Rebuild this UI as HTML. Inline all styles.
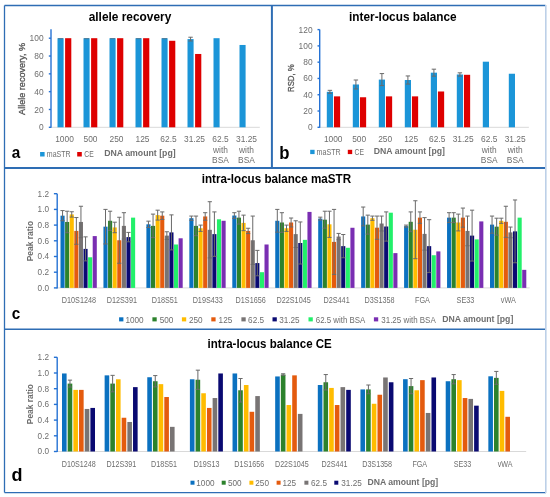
<!DOCTYPE html>
<html><head><meta charset="utf-8"><style>
html,body{margin:0;padding:0;background:#fff;}
svg{display:block;font-family:"Liberation Sans", sans-serif;will-change:transform;}
</style></head><body>
<svg width="550" height="497" viewBox="0 0 550 497">
<rect width="550" height="497" fill="#fff"/>
<line x1="51.00" y1="127.30" x2="259.80" y2="127.30" stroke="#D9D9D9" stroke-width="1"/>
<rect x="57.50" y="38.20" width="6.10" height="89.10" fill="#1B95D8"/>
<line x1="58.10" y1="38.70" x2="63.00" y2="38.70" stroke="#4F7890" stroke-width="1"/>
<rect x="65.10" y="38.20" width="6.20" height="89.10" fill="#DE0000"/>
<rect x="83.50" y="38.20" width="6.10" height="89.10" fill="#1B95D8"/>
<line x1="84.10" y1="38.70" x2="89.00" y2="38.70" stroke="#4F7890" stroke-width="1"/>
<rect x="91.10" y="38.20" width="6.20" height="89.10" fill="#DE0000"/>
<rect x="109.50" y="38.20" width="6.10" height="89.10" fill="#1B95D8"/>
<line x1="110.10" y1="38.70" x2="115.00" y2="38.70" stroke="#4F7890" stroke-width="1"/>
<rect x="117.10" y="38.20" width="6.20" height="89.10" fill="#DE0000"/>
<rect x="135.50" y="38.20" width="6.10" height="89.10" fill="#1B95D8"/>
<line x1="136.10" y1="38.70" x2="141.00" y2="38.70" stroke="#4F7890" stroke-width="1"/>
<rect x="143.10" y="38.20" width="6.20" height="89.10" fill="#DE0000"/>
<rect x="161.50" y="38.20" width="6.10" height="89.10" fill="#1B95D8"/>
<line x1="162.10" y1="38.70" x2="167.00" y2="38.70" stroke="#4F7890" stroke-width="1"/>
<rect x="169.10" y="40.78" width="6.20" height="86.52" fill="#DE0000"/>
<rect x="187.50" y="39.09" width="6.10" height="88.21" fill="#1B95D8"/>
<line x1="190.55" y1="37.22" x2="190.55" y2="40.96" stroke="#6A6A6A" stroke-width="1"/>
<line x1="188.35" y1="37.22" x2="192.75" y2="37.22" stroke="#6A6A6A" stroke-width="1"/>
<line x1="188.35" y1="40.96" x2="192.75" y2="40.96" stroke="#6A6A6A" stroke-width="1"/>
<rect x="195.10" y="53.97" width="6.20" height="73.33" fill="#DE0000"/>
<rect x="213.50" y="38.20" width="6.10" height="89.10" fill="#1B95D8"/>
<rect x="239.50" y="44.97" width="6.10" height="82.33" fill="#1B95D8"/>
<line x1="51.00" y1="29.29" x2="51.00" y2="127.80" stroke="#2572D4" stroke-width="1.4"/>
<line x1="48.80" y1="127.30" x2="51.00" y2="127.30" stroke="#2572D4" stroke-width="1.4"/>
<text x="43.60" y="130.32" font-size="8.4" fill="#6E6E6E" text-anchor="end" font-weight="normal">0</text>
<line x1="48.80" y1="109.48" x2="51.00" y2="109.48" stroke="#2572D4" stroke-width="1.4"/>
<text x="43.60" y="112.50" font-size="8.4" fill="#6E6E6E" text-anchor="end" font-weight="normal">20</text>
<line x1="48.80" y1="91.66" x2="51.00" y2="91.66" stroke="#2572D4" stroke-width="1.4"/>
<text x="43.60" y="94.68" font-size="8.4" fill="#6E6E6E" text-anchor="end" font-weight="normal">40</text>
<line x1="48.80" y1="73.84" x2="51.00" y2="73.84" stroke="#2572D4" stroke-width="1.4"/>
<text x="43.60" y="76.86" font-size="8.4" fill="#6E6E6E" text-anchor="end" font-weight="normal">60</text>
<line x1="48.80" y1="56.02" x2="51.00" y2="56.02" stroke="#2572D4" stroke-width="1.4"/>
<text x="43.60" y="59.04" font-size="8.4" fill="#6E6E6E" text-anchor="end" font-weight="normal">80</text>
<line x1="48.80" y1="38.20" x2="51.00" y2="38.20" stroke="#2572D4" stroke-width="1.4"/>
<text x="43.60" y="41.22" font-size="8.4" fill="#6E6E6E" text-anchor="end" font-weight="normal">100</text>
<text x="64.50" y="142.00" font-size="8.4" fill="#6E6E6E" text-anchor="middle" font-weight="normal">1000</text>
<text x="90.50" y="142.00" font-size="8.4" fill="#6E6E6E" text-anchor="middle" font-weight="normal">500</text>
<text x="116.50" y="142.00" font-size="8.4" fill="#6E6E6E" text-anchor="middle" font-weight="normal">250</text>
<text x="142.50" y="142.00" font-size="8.4" fill="#6E6E6E" text-anchor="middle" font-weight="normal">125</text>
<text x="168.50" y="142.00" font-size="8.4" fill="#6E6E6E" text-anchor="middle" font-weight="normal">62.5</text>
<text x="194.50" y="142.00" font-size="8.4" fill="#6E6E6E" text-anchor="middle" font-weight="normal">31.25</text>
<text x="220.50" y="142.00" font-size="8.4" fill="#6E6E6E" text-anchor="middle" font-weight="normal">62.5</text>
<text x="220.50" y="152.60" font-size="8.4" fill="#6E6E6E" text-anchor="middle" font-weight="normal">with</text>
<text x="220.50" y="163.20" font-size="8.4" fill="#6E6E6E" text-anchor="middle" font-weight="normal">BSA</text>
<text x="246.50" y="142.00" font-size="8.4" fill="#6E6E6E" text-anchor="middle" font-weight="normal">31.25</text>
<text x="246.50" y="152.60" font-size="8.4" fill="#6E6E6E" text-anchor="middle" font-weight="normal">with</text>
<text x="246.50" y="163.20" font-size="8.4" fill="#6E6E6E" text-anchor="middle" font-weight="normal">BSA</text>
<text x="130.00" y="20.70" font-size="12.6" fill="#000" text-anchor="middle" font-weight="bold" textLength="82.60" lengthAdjust="spacingAndGlyphs">allele recovery</text>
<text transform="translate(25.1,78.9) rotate(-90)" font-size="9" fill="#555" stroke="#555" stroke-width="0.3" text-anchor="middle" textLength="72" lengthAdjust="spacingAndGlyphs">Allele recovery, %</text>
<rect x="40.10" y="152.00" width="4.50" height="4.50" fill="#1B95D8"/>
<text x="46.80" y="156.60" font-size="8.4" fill="#6E6E6E" text-anchor="start" font-weight="normal" textLength="23.80" lengthAdjust="spacingAndGlyphs">maSTR</text>
<rect x="77.20" y="152.00" width="4.60" height="4.50" fill="#DE0000"/>
<text x="84.30" y="156.60" font-size="8.6" fill="#6E6E6E" text-anchor="start" font-weight="normal" textLength="9.40" lengthAdjust="spacingAndGlyphs">CE</text>
<text x="104.20" y="156.00" font-size="8.8" fill="#6E6E6E" text-anchor="start" font-weight="bold" textLength="71.50" lengthAdjust="spacingAndGlyphs">DNA amount [pg]</text>
<text transform="translate(11.7,158.2) scale(0.85,0.96)" font-size="18" font-weight="bold" fill="#000">a</text>
<line x1="319.70" y1="127.30" x2="528.90" y2="127.30" stroke="#D9D9D9" stroke-width="1"/>
<rect x="326.80" y="91.81" width="6.20" height="35.49" fill="#1B95D8"/>
<rect x="333.95" y="96.37" width="6.20" height="30.93" fill="#DE0000"/>
<line x1="329.90" y1="90.34" x2="329.90" y2="93.27" stroke="#6A6A6A" stroke-width="1"/>
<line x1="327.70" y1="90.34" x2="332.10" y2="90.34" stroke="#6A6A6A" stroke-width="1"/>
<line x1="327.70" y1="93.27" x2="332.10" y2="93.27" stroke="#6A6A6A" stroke-width="1"/>
<rect x="352.80" y="84.48" width="6.20" height="42.82" fill="#1B95D8"/>
<rect x="359.95" y="97.26" width="6.20" height="30.04" fill="#DE0000"/>
<line x1="355.90" y1="80.01" x2="355.90" y2="88.96" stroke="#6A6A6A" stroke-width="1"/>
<line x1="353.70" y1="80.01" x2="358.10" y2="80.01" stroke="#6A6A6A" stroke-width="1"/>
<line x1="353.70" y1="88.96" x2="358.10" y2="88.96" stroke="#6A6A6A" stroke-width="1"/>
<rect x="378.80" y="79.60" width="6.20" height="47.70" fill="#1B95D8"/>
<rect x="385.95" y="96.37" width="6.20" height="30.93" fill="#DE0000"/>
<line x1="381.90" y1="73.58" x2="381.90" y2="85.62" stroke="#6A6A6A" stroke-width="1"/>
<line x1="379.70" y1="73.58" x2="384.10" y2="73.58" stroke="#6A6A6A" stroke-width="1"/>
<line x1="379.70" y1="85.62" x2="384.10" y2="85.62" stroke="#6A6A6A" stroke-width="1"/>
<rect x="404.80" y="80.01" width="6.20" height="47.29" fill="#1B95D8"/>
<rect x="411.95" y="96.37" width="6.20" height="30.93" fill="#DE0000"/>
<line x1="407.90" y1="75.94" x2="407.90" y2="84.08" stroke="#6A6A6A" stroke-width="1"/>
<line x1="405.70" y1="75.94" x2="410.10" y2="75.94" stroke="#6A6A6A" stroke-width="1"/>
<line x1="405.70" y1="84.08" x2="410.10" y2="84.08" stroke="#6A6A6A" stroke-width="1"/>
<rect x="430.80" y="72.68" width="6.20" height="54.62" fill="#1B95D8"/>
<rect x="437.95" y="91.48" width="6.20" height="35.82" fill="#DE0000"/>
<line x1="433.90" y1="69.18" x2="433.90" y2="76.18" stroke="#6A6A6A" stroke-width="1"/>
<line x1="431.70" y1="69.18" x2="436.10" y2="69.18" stroke="#6A6A6A" stroke-width="1"/>
<line x1="431.70" y1="76.18" x2="436.10" y2="76.18" stroke="#6A6A6A" stroke-width="1"/>
<rect x="456.80" y="74.47" width="6.20" height="52.83" fill="#1B95D8"/>
<rect x="463.95" y="74.80" width="6.20" height="52.50" fill="#DE0000"/>
<line x1="459.90" y1="72.84" x2="459.90" y2="76.10" stroke="#6A6A6A" stroke-width="1"/>
<line x1="457.70" y1="72.84" x2="462.10" y2="72.84" stroke="#6A6A6A" stroke-width="1"/>
<line x1="457.70" y1="76.10" x2="462.10" y2="76.10" stroke="#6A6A6A" stroke-width="1"/>
<rect x="482.80" y="61.69" width="6.20" height="65.61" fill="#1B95D8"/>
<rect x="508.80" y="73.74" width="6.20" height="53.56" fill="#1B95D8"/>
<line x1="319.70" y1="29.62" x2="319.70" y2="127.80" stroke="#2572D4" stroke-width="1.4"/>
<line x1="317.50" y1="127.30" x2="319.70" y2="127.30" stroke="#2572D4" stroke-width="1.4"/>
<text x="312.60" y="130.32" font-size="8.4" fill="#6E6E6E" text-anchor="end" font-weight="normal">0</text>
<line x1="317.50" y1="111.02" x2="319.70" y2="111.02" stroke="#2572D4" stroke-width="1.4"/>
<text x="312.60" y="114.04" font-size="8.4" fill="#6E6E6E" text-anchor="end" font-weight="normal">20</text>
<line x1="317.50" y1="94.74" x2="319.70" y2="94.74" stroke="#2572D4" stroke-width="1.4"/>
<text x="312.60" y="97.76" font-size="8.4" fill="#6E6E6E" text-anchor="end" font-weight="normal">40</text>
<line x1="317.50" y1="78.46" x2="319.70" y2="78.46" stroke="#2572D4" stroke-width="1.4"/>
<text x="312.60" y="81.48" font-size="8.4" fill="#6E6E6E" text-anchor="end" font-weight="normal">60</text>
<line x1="317.50" y1="62.18" x2="319.70" y2="62.18" stroke="#2572D4" stroke-width="1.4"/>
<text x="312.60" y="65.20" font-size="8.4" fill="#6E6E6E" text-anchor="end" font-weight="normal">80</text>
<line x1="317.50" y1="45.90" x2="319.70" y2="45.90" stroke="#2572D4" stroke-width="1.4"/>
<text x="312.60" y="48.92" font-size="8.4" fill="#6E6E6E" text-anchor="end" font-weight="normal">100</text>
<line x1="317.50" y1="29.62" x2="319.70" y2="29.62" stroke="#2572D4" stroke-width="1.4"/>
<text x="312.60" y="32.64" font-size="8.4" fill="#6E6E6E" text-anchor="end" font-weight="normal">120</text>
<text x="333.20" y="142.00" font-size="8.4" fill="#6E6E6E" text-anchor="middle" font-weight="normal">1000</text>
<text x="359.20" y="142.00" font-size="8.4" fill="#6E6E6E" text-anchor="middle" font-weight="normal">500</text>
<text x="385.20" y="142.00" font-size="8.4" fill="#6E6E6E" text-anchor="middle" font-weight="normal">250</text>
<text x="411.20" y="142.00" font-size="8.4" fill="#6E6E6E" text-anchor="middle" font-weight="normal">125</text>
<text x="437.20" y="142.00" font-size="8.4" fill="#6E6E6E" text-anchor="middle" font-weight="normal">62.5</text>
<text x="463.20" y="142.00" font-size="8.4" fill="#6E6E6E" text-anchor="middle" font-weight="normal">31.25</text>
<text x="489.20" y="142.00" font-size="8.4" fill="#6E6E6E" text-anchor="middle" font-weight="normal">62.5</text>
<text x="489.20" y="152.60" font-size="8.4" fill="#6E6E6E" text-anchor="middle" font-weight="normal">with</text>
<text x="489.20" y="163.20" font-size="8.4" fill="#6E6E6E" text-anchor="middle" font-weight="normal">BSA</text>
<text x="515.20" y="142.00" font-size="8.4" fill="#6E6E6E" text-anchor="middle" font-weight="normal">31.25</text>
<text x="515.20" y="152.60" font-size="8.4" fill="#6E6E6E" text-anchor="middle" font-weight="normal">with</text>
<text x="515.20" y="163.20" font-size="8.4" fill="#6E6E6E" text-anchor="middle" font-weight="normal">BSA</text>
<text x="402.90" y="21.20" font-size="12.6" fill="#000" text-anchor="middle" font-weight="bold" textLength="107.60" lengthAdjust="spacingAndGlyphs">inter-locus balance</text>
<text transform="translate(294.1,78.1) rotate(-90)" font-size="9" fill="#555" stroke="#555" stroke-width="0.3" text-anchor="middle" textLength="27.8" lengthAdjust="spacingAndGlyphs">RSD, %</text>
<rect x="310.20" y="149.80" width="4.40" height="4.30" fill="#1B95D8"/>
<text x="316.50" y="154.60" font-size="8.4" fill="#6E6E6E" text-anchor="start" font-weight="normal" textLength="24.20" lengthAdjust="spacingAndGlyphs">maSTR</text>
<rect x="347.80" y="149.80" width="4.40" height="4.30" fill="#DE0000"/>
<text x="354.60" y="154.60" font-size="8.6" fill="#6E6E6E" text-anchor="start" font-weight="normal" textLength="9.40" lengthAdjust="spacingAndGlyphs">CE</text>
<text x="373.80" y="154.00" font-size="8.8" fill="#6E6E6E" text-anchor="start" font-weight="bold" textLength="71.10" lengthAdjust="spacingAndGlyphs">DNA amount [pg]</text>
<text transform="translate(279.3,158.8) scale(0.93,1)" font-size="18" font-weight="bold" fill="#000">b</text>
<line x1="57.20" y1="287.90" x2="529.65" y2="287.90" stroke="#D9D9D9" stroke-width="1"/>
<rect x="60.50" y="215.68" width="4.10" height="72.22" fill="#0B71C0"/>
<rect x="65.10" y="221.96" width="4.10" height="65.94" fill="#2C822C"/>
<rect x="69.70" y="214.42" width="4.10" height="73.48" fill="#FFBC00"/>
<rect x="74.30" y="230.91" width="4.10" height="56.99" fill="#E45B0E"/>
<rect x="78.90" y="221.96" width="4.10" height="65.94" fill="#787474"/>
<rect x="83.50" y="248.89" width="4.10" height="39.01" fill="#0A0A72"/>
<rect x="88.10" y="257.28" width="4.10" height="30.62" fill="#22F06A"/>
<rect x="92.70" y="236.09" width="4.10" height="51.81" fill="#7A2EB2"/>
<line x1="62.55" y1="210.58" x2="62.55" y2="220.78" stroke="#6A6A6A" stroke-width="1"/>
<line x1="60.45" y1="210.58" x2="64.65" y2="210.58" stroke="#6A6A6A" stroke-width="1"/>
<line x1="60.45" y1="220.78" x2="64.65" y2="220.78" stroke="#6A6A6A" stroke-width="1"/>
<line x1="67.15" y1="211.21" x2="67.15" y2="232.71" stroke="#6A6A6A" stroke-width="1"/>
<line x1="65.05" y1="211.21" x2="69.25" y2="211.21" stroke="#6A6A6A" stroke-width="1"/>
<line x1="65.05" y1="232.71" x2="69.25" y2="232.71" stroke="#6A6A6A" stroke-width="1"/>
<line x1="71.75" y1="211.75" x2="71.75" y2="217.09" stroke="#6A6A6A" stroke-width="1"/>
<line x1="69.65" y1="211.75" x2="73.85" y2="211.75" stroke="#6A6A6A" stroke-width="1"/>
<line x1="69.65" y1="217.09" x2="73.85" y2="217.09" stroke="#6A6A6A" stroke-width="1"/>
<line x1="76.35" y1="217.56" x2="76.35" y2="244.25" stroke="#6A6A6A" stroke-width="1"/>
<line x1="74.25" y1="217.56" x2="78.45" y2="217.56" stroke="#6A6A6A" stroke-width="1"/>
<line x1="74.25" y1="244.25" x2="78.45" y2="244.25" stroke="#6A6A6A" stroke-width="1"/>
<line x1="80.95" y1="206.26" x2="80.95" y2="237.66" stroke="#6A6A6A" stroke-width="1"/>
<line x1="78.85" y1="206.26" x2="83.05" y2="206.26" stroke="#6A6A6A" stroke-width="1"/>
<line x1="78.85" y1="237.66" x2="83.05" y2="237.66" stroke="#6A6A6A" stroke-width="1"/>
<line x1="85.55" y1="236.87" x2="85.55" y2="260.90" stroke="#6A6A6A" stroke-width="1"/>
<line x1="83.45" y1="236.87" x2="87.65" y2="236.87" stroke="#6A6A6A" stroke-width="1"/>
<line x1="83.45" y1="260.90" x2="87.65" y2="260.90" stroke="#6A6A6A" stroke-width="1"/>
<rect x="103.45" y="226.67" width="4.10" height="61.23" fill="#0B71C0"/>
<rect x="108.05" y="220.78" width="4.10" height="67.12" fill="#2C822C"/>
<rect x="112.65" y="227.45" width="4.10" height="60.45" fill="#FFBC00"/>
<rect x="117.25" y="240.25" width="4.10" height="47.65" fill="#E45B0E"/>
<rect x="121.85" y="225.88" width="4.10" height="62.02" fill="#787474"/>
<rect x="126.45" y="237.11" width="4.10" height="50.79" fill="#0A0A72"/>
<rect x="131.05" y="217.64" width="4.10" height="70.26" fill="#22F06A"/>
<line x1="105.50" y1="209.40" x2="105.50" y2="243.94" stroke="#6A6A6A" stroke-width="1"/>
<line x1="103.40" y1="209.40" x2="107.60" y2="209.40" stroke="#6A6A6A" stroke-width="1"/>
<line x1="103.40" y1="243.94" x2="107.60" y2="243.94" stroke="#6A6A6A" stroke-width="1"/>
<line x1="110.10" y1="211.21" x2="110.10" y2="230.36" stroke="#6A6A6A" stroke-width="1"/>
<line x1="108.00" y1="211.21" x2="112.20" y2="211.21" stroke="#6A6A6A" stroke-width="1"/>
<line x1="108.00" y1="230.36" x2="112.20" y2="230.36" stroke="#6A6A6A" stroke-width="1"/>
<line x1="114.70" y1="222.20" x2="114.70" y2="232.71" stroke="#6A6A6A" stroke-width="1"/>
<line x1="112.60" y1="222.20" x2="116.80" y2="222.20" stroke="#6A6A6A" stroke-width="1"/>
<line x1="112.60" y1="232.71" x2="116.80" y2="232.71" stroke="#6A6A6A" stroke-width="1"/>
<line x1="119.30" y1="217.25" x2="119.30" y2="263.25" stroke="#6A6A6A" stroke-width="1"/>
<line x1="117.20" y1="217.25" x2="121.40" y2="217.25" stroke="#6A6A6A" stroke-width="1"/>
<line x1="117.20" y1="263.25" x2="121.40" y2="263.25" stroke="#6A6A6A" stroke-width="1"/>
<line x1="123.90" y1="212.70" x2="123.90" y2="239.07" stroke="#6A6A6A" stroke-width="1"/>
<line x1="121.80" y1="212.70" x2="126.00" y2="212.70" stroke="#6A6A6A" stroke-width="1"/>
<line x1="121.80" y1="239.07" x2="126.00" y2="239.07" stroke="#6A6A6A" stroke-width="1"/>
<line x1="128.50" y1="232.40" x2="128.50" y2="241.82" stroke="#6A6A6A" stroke-width="1"/>
<line x1="126.40" y1="232.40" x2="130.60" y2="232.40" stroke="#6A6A6A" stroke-width="1"/>
<line x1="126.40" y1="241.82" x2="130.60" y2="241.82" stroke="#6A6A6A" stroke-width="1"/>
<rect x="146.40" y="224.31" width="4.10" height="63.59" fill="#0B71C0"/>
<rect x="151.00" y="225.88" width="4.10" height="62.02" fill="#2C822C"/>
<rect x="155.60" y="215.13" width="4.10" height="72.77" fill="#FFBC00"/>
<rect x="160.20" y="215.68" width="4.10" height="72.22" fill="#E45B0E"/>
<rect x="164.80" y="235.62" width="4.10" height="52.28" fill="#787474"/>
<rect x="169.40" y="232.40" width="4.10" height="55.50" fill="#0A0A72"/>
<rect x="174.00" y="244.49" width="4.10" height="43.41" fill="#22F06A"/>
<rect x="178.60" y="238.29" width="4.10" height="49.61" fill="#7A2EB2"/>
<line x1="148.45" y1="221.17" x2="148.45" y2="227.45" stroke="#6A6A6A" stroke-width="1"/>
<line x1="146.35" y1="221.17" x2="150.55" y2="221.17" stroke="#6A6A6A" stroke-width="1"/>
<line x1="146.35" y1="227.45" x2="150.55" y2="227.45" stroke="#6A6A6A" stroke-width="1"/>
<line x1="153.05" y1="214.11" x2="153.05" y2="237.66" stroke="#6A6A6A" stroke-width="1"/>
<line x1="150.95" y1="214.11" x2="155.15" y2="214.11" stroke="#6A6A6A" stroke-width="1"/>
<line x1="150.95" y1="237.66" x2="155.15" y2="237.66" stroke="#6A6A6A" stroke-width="1"/>
<line x1="157.65" y1="210.18" x2="157.65" y2="220.08" stroke="#6A6A6A" stroke-width="1"/>
<line x1="155.55" y1="210.18" x2="159.75" y2="210.18" stroke="#6A6A6A" stroke-width="1"/>
<line x1="155.55" y1="220.08" x2="159.75" y2="220.08" stroke="#6A6A6A" stroke-width="1"/>
<line x1="162.25" y1="211.91" x2="162.25" y2="219.45" stroke="#6A6A6A" stroke-width="1"/>
<line x1="160.15" y1="211.91" x2="164.35" y2="211.91" stroke="#6A6A6A" stroke-width="1"/>
<line x1="160.15" y1="219.45" x2="164.35" y2="219.45" stroke="#6A6A6A" stroke-width="1"/>
<line x1="166.85" y1="231.77" x2="166.85" y2="239.47" stroke="#6A6A6A" stroke-width="1"/>
<line x1="164.75" y1="231.77" x2="168.95" y2="231.77" stroke="#6A6A6A" stroke-width="1"/>
<line x1="164.75" y1="239.47" x2="168.95" y2="239.47" stroke="#6A6A6A" stroke-width="1"/>
<line x1="171.45" y1="214.89" x2="171.45" y2="249.91" stroke="#6A6A6A" stroke-width="1"/>
<line x1="169.35" y1="214.89" x2="173.55" y2="214.89" stroke="#6A6A6A" stroke-width="1"/>
<line x1="169.35" y1="249.91" x2="173.55" y2="249.91" stroke="#6A6A6A" stroke-width="1"/>
<rect x="189.35" y="218.19" width="4.10" height="69.71" fill="#0B71C0"/>
<rect x="193.95" y="225.88" width="4.10" height="62.02" fill="#2C822C"/>
<rect x="198.55" y="228.24" width="4.10" height="59.66" fill="#FFBC00"/>
<rect x="203.15" y="216.46" width="4.10" height="71.44" fill="#E45B0E"/>
<rect x="207.75" y="229.81" width="4.10" height="58.09" fill="#787474"/>
<rect x="212.35" y="234.13" width="4.10" height="53.77" fill="#0A0A72"/>
<rect x="216.95" y="219.29" width="4.10" height="68.61" fill="#22F06A"/>
<rect x="221.55" y="220.78" width="4.10" height="67.12" fill="#7A2EB2"/>
<line x1="191.40" y1="216.07" x2="191.40" y2="220.31" stroke="#6A6A6A" stroke-width="1"/>
<line x1="189.30" y1="216.07" x2="193.50" y2="216.07" stroke="#6A6A6A" stroke-width="1"/>
<line x1="189.30" y1="220.31" x2="193.50" y2="220.31" stroke="#6A6A6A" stroke-width="1"/>
<line x1="196.00" y1="216.07" x2="196.00" y2="235.70" stroke="#6A6A6A" stroke-width="1"/>
<line x1="193.90" y1="216.07" x2="198.10" y2="216.07" stroke="#6A6A6A" stroke-width="1"/>
<line x1="193.90" y1="235.70" x2="198.10" y2="235.70" stroke="#6A6A6A" stroke-width="1"/>
<line x1="200.60" y1="225.10" x2="200.60" y2="231.38" stroke="#6A6A6A" stroke-width="1"/>
<line x1="198.50" y1="225.10" x2="202.70" y2="225.10" stroke="#6A6A6A" stroke-width="1"/>
<line x1="198.50" y1="231.38" x2="202.70" y2="231.38" stroke="#6A6A6A" stroke-width="1"/>
<line x1="205.20" y1="212.70" x2="205.20" y2="220.23" stroke="#6A6A6A" stroke-width="1"/>
<line x1="203.10" y1="212.70" x2="207.30" y2="212.70" stroke="#6A6A6A" stroke-width="1"/>
<line x1="203.10" y1="220.23" x2="207.30" y2="220.23" stroke="#6A6A6A" stroke-width="1"/>
<line x1="209.80" y1="201.71" x2="209.80" y2="257.91" stroke="#6A6A6A" stroke-width="1"/>
<line x1="207.70" y1="201.71" x2="211.90" y2="201.71" stroke="#6A6A6A" stroke-width="1"/>
<line x1="207.70" y1="257.91" x2="211.90" y2="257.91" stroke="#6A6A6A" stroke-width="1"/>
<line x1="214.40" y1="211.91" x2="214.40" y2="256.34" stroke="#6A6A6A" stroke-width="1"/>
<line x1="212.30" y1="211.91" x2="216.50" y2="211.91" stroke="#6A6A6A" stroke-width="1"/>
<line x1="212.30" y1="256.34" x2="216.50" y2="256.34" stroke="#6A6A6A" stroke-width="1"/>
<rect x="232.30" y="215.52" width="4.10" height="72.38" fill="#0B71C0"/>
<rect x="236.90" y="217.64" width="4.10" height="70.26" fill="#2C822C"/>
<rect x="241.50" y="222.90" width="4.10" height="65.00" fill="#FFBC00"/>
<rect x="246.10" y="230.91" width="4.10" height="56.99" fill="#E45B0E"/>
<rect x="250.70" y="240.25" width="4.10" height="47.65" fill="#787474"/>
<rect x="255.30" y="263.09" width="4.10" height="24.81" fill="#0A0A72"/>
<rect x="259.90" y="272.20" width="4.10" height="15.70" fill="#22F06A"/>
<rect x="264.50" y="244.49" width="4.10" height="43.41" fill="#7A2EB2"/>
<line x1="234.35" y1="212.70" x2="234.35" y2="218.35" stroke="#6A6A6A" stroke-width="1"/>
<line x1="232.25" y1="212.70" x2="236.45" y2="212.70" stroke="#6A6A6A" stroke-width="1"/>
<line x1="232.25" y1="218.35" x2="236.45" y2="218.35" stroke="#6A6A6A" stroke-width="1"/>
<line x1="238.95" y1="211.21" x2="238.95" y2="224.08" stroke="#6A6A6A" stroke-width="1"/>
<line x1="236.85" y1="211.21" x2="241.05" y2="211.21" stroke="#6A6A6A" stroke-width="1"/>
<line x1="236.85" y1="224.08" x2="241.05" y2="224.08" stroke="#6A6A6A" stroke-width="1"/>
<line x1="243.55" y1="215.13" x2="243.55" y2="230.67" stroke="#6A6A6A" stroke-width="1"/>
<line x1="241.45" y1="215.13" x2="245.65" y2="215.13" stroke="#6A6A6A" stroke-width="1"/>
<line x1="241.45" y1="230.67" x2="245.65" y2="230.67" stroke="#6A6A6A" stroke-width="1"/>
<line x1="248.15" y1="228.24" x2="248.15" y2="233.58" stroke="#6A6A6A" stroke-width="1"/>
<line x1="246.05" y1="228.24" x2="250.25" y2="228.24" stroke="#6A6A6A" stroke-width="1"/>
<line x1="246.05" y1="233.58" x2="250.25" y2="233.58" stroke="#6A6A6A" stroke-width="1"/>
<line x1="252.75" y1="216.07" x2="252.75" y2="264.43" stroke="#6A6A6A" stroke-width="1"/>
<line x1="250.65" y1="216.07" x2="254.85" y2="216.07" stroke="#6A6A6A" stroke-width="1"/>
<line x1="250.65" y1="264.43" x2="254.85" y2="264.43" stroke="#6A6A6A" stroke-width="1"/>
<line x1="257.35" y1="250.38" x2="257.35" y2="275.81" stroke="#6A6A6A" stroke-width="1"/>
<line x1="255.25" y1="250.38" x2="259.45" y2="250.38" stroke="#6A6A6A" stroke-width="1"/>
<line x1="255.25" y1="275.81" x2="259.45" y2="275.81" stroke="#6A6A6A" stroke-width="1"/>
<rect x="275.25" y="220.78" width="4.10" height="67.12" fill="#0B71C0"/>
<rect x="279.85" y="222.51" width="4.10" height="65.39" fill="#2C822C"/>
<rect x="284.45" y="228.24" width="4.10" height="59.66" fill="#FFBC00"/>
<rect x="289.05" y="222.51" width="4.10" height="65.39" fill="#E45B0E"/>
<rect x="293.65" y="234.13" width="4.10" height="53.77" fill="#787474"/>
<rect x="298.25" y="243.00" width="4.10" height="44.90" fill="#0A0A72"/>
<rect x="302.85" y="239.86" width="4.10" height="48.04" fill="#22F06A"/>
<rect x="307.45" y="211.91" width="4.10" height="75.99" fill="#7A2EB2"/>
<line x1="277.30" y1="209.40" x2="277.30" y2="232.16" stroke="#6A6A6A" stroke-width="1"/>
<line x1="275.20" y1="209.40" x2="279.40" y2="209.40" stroke="#6A6A6A" stroke-width="1"/>
<line x1="275.20" y1="232.16" x2="279.40" y2="232.16" stroke="#6A6A6A" stroke-width="1"/>
<line x1="281.90" y1="212.70" x2="281.90" y2="232.32" stroke="#6A6A6A" stroke-width="1"/>
<line x1="279.80" y1="212.70" x2="284.00" y2="212.70" stroke="#6A6A6A" stroke-width="1"/>
<line x1="279.80" y1="232.32" x2="284.00" y2="232.32" stroke="#6A6A6A" stroke-width="1"/>
<line x1="286.50" y1="225.10" x2="286.50" y2="231.38" stroke="#6A6A6A" stroke-width="1"/>
<line x1="284.40" y1="225.10" x2="288.60" y2="225.10" stroke="#6A6A6A" stroke-width="1"/>
<line x1="284.40" y1="231.38" x2="288.60" y2="231.38" stroke="#6A6A6A" stroke-width="1"/>
<line x1="291.10" y1="218.03" x2="291.10" y2="226.98" stroke="#6A6A6A" stroke-width="1"/>
<line x1="289.00" y1="218.03" x2="293.20" y2="218.03" stroke="#6A6A6A" stroke-width="1"/>
<line x1="289.00" y1="226.98" x2="293.20" y2="226.98" stroke="#6A6A6A" stroke-width="1"/>
<line x1="295.70" y1="220.78" x2="295.70" y2="247.47" stroke="#6A6A6A" stroke-width="1"/>
<line x1="293.60" y1="220.78" x2="297.80" y2="220.78" stroke="#6A6A6A" stroke-width="1"/>
<line x1="293.60" y1="247.47" x2="297.80" y2="247.47" stroke="#6A6A6A" stroke-width="1"/>
<line x1="300.30" y1="221.96" x2="300.30" y2="264.04" stroke="#6A6A6A" stroke-width="1"/>
<line x1="298.20" y1="221.96" x2="302.40" y2="221.96" stroke="#6A6A6A" stroke-width="1"/>
<line x1="298.20" y1="264.04" x2="302.40" y2="264.04" stroke="#6A6A6A" stroke-width="1"/>
<rect x="318.20" y="218.58" width="4.10" height="69.32" fill="#0B71C0"/>
<rect x="322.80" y="219.68" width="4.10" height="68.22" fill="#2C822C"/>
<rect x="327.40" y="224.31" width="4.10" height="63.59" fill="#FFBC00"/>
<rect x="332.00" y="241.90" width="4.10" height="46.00" fill="#E45B0E"/>
<rect x="336.60" y="236.56" width="4.10" height="51.34" fill="#787474"/>
<rect x="341.20" y="246.14" width="4.10" height="41.76" fill="#0A0A72"/>
<rect x="345.80" y="247.79" width="4.10" height="40.11" fill="#22F06A"/>
<rect x="350.40" y="227.77" width="4.10" height="60.13" fill="#7A2EB2"/>
<line x1="320.25" y1="217.17" x2="320.25" y2="220.00" stroke="#6A6A6A" stroke-width="1"/>
<line x1="318.15" y1="217.17" x2="322.35" y2="217.17" stroke="#6A6A6A" stroke-width="1"/>
<line x1="318.15" y1="220.00" x2="322.35" y2="220.00" stroke="#6A6A6A" stroke-width="1"/>
<line x1="324.85" y1="211.21" x2="324.85" y2="228.16" stroke="#6A6A6A" stroke-width="1"/>
<line x1="322.75" y1="211.21" x2="326.95" y2="211.21" stroke="#6A6A6A" stroke-width="1"/>
<line x1="322.75" y1="228.16" x2="326.95" y2="228.16" stroke="#6A6A6A" stroke-width="1"/>
<line x1="329.45" y1="211.21" x2="329.45" y2="237.42" stroke="#6A6A6A" stroke-width="1"/>
<line x1="327.35" y1="211.21" x2="331.55" y2="211.21" stroke="#6A6A6A" stroke-width="1"/>
<line x1="327.35" y1="237.42" x2="331.55" y2="237.42" stroke="#6A6A6A" stroke-width="1"/>
<line x1="334.05" y1="209.40" x2="334.05" y2="274.40" stroke="#6A6A6A" stroke-width="1"/>
<line x1="331.95" y1="209.40" x2="336.15" y2="209.40" stroke="#6A6A6A" stroke-width="1"/>
<line x1="331.95" y1="274.40" x2="336.15" y2="274.40" stroke="#6A6A6A" stroke-width="1"/>
<line x1="338.65" y1="233.42" x2="338.65" y2="239.70" stroke="#6A6A6A" stroke-width="1"/>
<line x1="336.55" y1="233.42" x2="340.75" y2="233.42" stroke="#6A6A6A" stroke-width="1"/>
<line x1="336.55" y1="239.70" x2="340.75" y2="239.70" stroke="#6A6A6A" stroke-width="1"/>
<line x1="343.25" y1="234.52" x2="343.25" y2="257.76" stroke="#6A6A6A" stroke-width="1"/>
<line x1="341.15" y1="234.52" x2="345.35" y2="234.52" stroke="#6A6A6A" stroke-width="1"/>
<line x1="341.15" y1="257.76" x2="345.35" y2="257.76" stroke="#6A6A6A" stroke-width="1"/>
<rect x="361.15" y="216.46" width="4.10" height="71.44" fill="#0B71C0"/>
<rect x="365.75" y="224.63" width="4.10" height="63.27" fill="#2C822C"/>
<rect x="370.35" y="218.19" width="4.10" height="69.71" fill="#FFBC00"/>
<rect x="374.95" y="227.69" width="4.10" height="60.21" fill="#E45B0E"/>
<rect x="379.55" y="223.53" width="4.10" height="64.37" fill="#787474"/>
<rect x="384.15" y="226.51" width="4.10" height="61.39" fill="#0A0A72"/>
<rect x="388.75" y="212.70" width="4.10" height="75.20" fill="#22F06A"/>
<rect x="393.35" y="253.12" width="4.10" height="34.78" fill="#7A2EB2"/>
<line x1="363.20" y1="207.04" x2="363.20" y2="225.88" stroke="#6A6A6A" stroke-width="1"/>
<line x1="361.10" y1="207.04" x2="365.30" y2="207.04" stroke="#6A6A6A" stroke-width="1"/>
<line x1="361.10" y1="225.88" x2="365.30" y2="225.88" stroke="#6A6A6A" stroke-width="1"/>
<line x1="367.80" y1="215.13" x2="367.80" y2="234.13" stroke="#6A6A6A" stroke-width="1"/>
<line x1="365.70" y1="215.13" x2="369.90" y2="215.13" stroke="#6A6A6A" stroke-width="1"/>
<line x1="365.70" y1="234.13" x2="369.90" y2="234.13" stroke="#6A6A6A" stroke-width="1"/>
<line x1="372.40" y1="216.07" x2="372.40" y2="220.31" stroke="#6A6A6A" stroke-width="1"/>
<line x1="370.30" y1="216.07" x2="374.50" y2="216.07" stroke="#6A6A6A" stroke-width="1"/>
<line x1="370.30" y1="220.31" x2="374.50" y2="220.31" stroke="#6A6A6A" stroke-width="1"/>
<line x1="377.00" y1="216.07" x2="377.00" y2="239.31" stroke="#6A6A6A" stroke-width="1"/>
<line x1="374.90" y1="216.07" x2="379.10" y2="216.07" stroke="#6A6A6A" stroke-width="1"/>
<line x1="374.90" y1="239.31" x2="379.10" y2="239.31" stroke="#6A6A6A" stroke-width="1"/>
<line x1="381.60" y1="216.07" x2="381.60" y2="230.99" stroke="#6A6A6A" stroke-width="1"/>
<line x1="379.50" y1="216.07" x2="383.70" y2="216.07" stroke="#6A6A6A" stroke-width="1"/>
<line x1="379.50" y1="230.99" x2="383.70" y2="230.99" stroke="#6A6A6A" stroke-width="1"/>
<line x1="386.20" y1="211.91" x2="386.20" y2="241.11" stroke="#6A6A6A" stroke-width="1"/>
<line x1="384.10" y1="211.91" x2="388.30" y2="211.91" stroke="#6A6A6A" stroke-width="1"/>
<line x1="384.10" y1="241.11" x2="388.30" y2="241.11" stroke="#6A6A6A" stroke-width="1"/>
<rect x="404.10" y="226.12" width="4.10" height="61.78" fill="#0B71C0"/>
<rect x="408.70" y="221.80" width="4.10" height="66.10" fill="#2C822C"/>
<rect x="413.30" y="229.73" width="4.10" height="58.17" fill="#FFBC00"/>
<rect x="417.90" y="217.64" width="4.10" height="70.26" fill="#E45B0E"/>
<rect x="422.50" y="233.89" width="4.10" height="54.01" fill="#787474"/>
<rect x="427.10" y="246.14" width="4.10" height="41.76" fill="#0A0A72"/>
<rect x="431.70" y="255.24" width="4.10" height="32.66" fill="#22F06A"/>
<rect x="436.30" y="251.40" width="4.10" height="36.50" fill="#7A2EB2"/>
<line x1="406.15" y1="225.10" x2="406.15" y2="227.14" stroke="#6A6A6A" stroke-width="1"/>
<line x1="404.05" y1="225.10" x2="408.25" y2="225.10" stroke="#6A6A6A" stroke-width="1"/>
<line x1="404.05" y1="227.14" x2="408.25" y2="227.14" stroke="#6A6A6A" stroke-width="1"/>
<line x1="410.75" y1="211.91" x2="410.75" y2="231.69" stroke="#6A6A6A" stroke-width="1"/>
<line x1="408.65" y1="211.91" x2="412.85" y2="211.91" stroke="#6A6A6A" stroke-width="1"/>
<line x1="408.65" y1="231.69" x2="412.85" y2="231.69" stroke="#6A6A6A" stroke-width="1"/>
<line x1="415.35" y1="200.76" x2="415.35" y2="258.70" stroke="#6A6A6A" stroke-width="1"/>
<line x1="413.25" y1="200.76" x2="417.45" y2="200.76" stroke="#6A6A6A" stroke-width="1"/>
<line x1="413.25" y1="258.70" x2="417.45" y2="258.70" stroke="#6A6A6A" stroke-width="1"/>
<line x1="419.95" y1="211.91" x2="419.95" y2="223.37" stroke="#6A6A6A" stroke-width="1"/>
<line x1="417.85" y1="211.91" x2="422.05" y2="211.91" stroke="#6A6A6A" stroke-width="1"/>
<line x1="417.85" y1="223.37" x2="422.05" y2="223.37" stroke="#6A6A6A" stroke-width="1"/>
<line x1="424.55" y1="217.64" x2="424.55" y2="250.14" stroke="#6A6A6A" stroke-width="1"/>
<line x1="422.45" y1="217.64" x2="426.65" y2="217.64" stroke="#6A6A6A" stroke-width="1"/>
<line x1="422.45" y1="250.14" x2="426.65" y2="250.14" stroke="#6A6A6A" stroke-width="1"/>
<line x1="429.15" y1="219.68" x2="429.15" y2="272.59" stroke="#6A6A6A" stroke-width="1"/>
<line x1="427.05" y1="219.68" x2="431.25" y2="219.68" stroke="#6A6A6A" stroke-width="1"/>
<line x1="427.05" y1="272.59" x2="431.25" y2="272.59" stroke="#6A6A6A" stroke-width="1"/>
<rect x="447.05" y="217.64" width="4.10" height="70.26" fill="#0B71C0"/>
<rect x="451.65" y="217.64" width="4.10" height="70.26" fill="#2C822C"/>
<rect x="456.25" y="222.51" width="4.10" height="65.39" fill="#FFBC00"/>
<rect x="460.85" y="217.64" width="4.10" height="70.26" fill="#E45B0E"/>
<rect x="465.45" y="230.91" width="4.10" height="56.99" fill="#787474"/>
<rect x="470.05" y="235.62" width="4.10" height="52.28" fill="#0A0A72"/>
<rect x="474.65" y="239.39" width="4.10" height="48.51" fill="#22F06A"/>
<rect x="479.25" y="221.41" width="4.10" height="66.49" fill="#7A2EB2"/>
<line x1="449.10" y1="212.70" x2="449.10" y2="222.59" stroke="#6A6A6A" stroke-width="1"/>
<line x1="447.00" y1="212.70" x2="451.20" y2="212.70" stroke="#6A6A6A" stroke-width="1"/>
<line x1="447.00" y1="222.59" x2="451.20" y2="222.59" stroke="#6A6A6A" stroke-width="1"/>
<line x1="453.70" y1="212.70" x2="453.70" y2="222.59" stroke="#6A6A6A" stroke-width="1"/>
<line x1="451.60" y1="212.70" x2="455.80" y2="212.70" stroke="#6A6A6A" stroke-width="1"/>
<line x1="451.60" y1="222.59" x2="455.80" y2="222.59" stroke="#6A6A6A" stroke-width="1"/>
<line x1="458.30" y1="214.11" x2="458.30" y2="230.91" stroke="#6A6A6A" stroke-width="1"/>
<line x1="456.20" y1="214.11" x2="460.40" y2="214.11" stroke="#6A6A6A" stroke-width="1"/>
<line x1="456.20" y1="230.91" x2="460.40" y2="230.91" stroke="#6A6A6A" stroke-width="1"/>
<line x1="462.90" y1="208.07" x2="462.90" y2="227.22" stroke="#6A6A6A" stroke-width="1"/>
<line x1="460.80" y1="208.07" x2="465.00" y2="208.07" stroke="#6A6A6A" stroke-width="1"/>
<line x1="460.80" y1="227.22" x2="465.00" y2="227.22" stroke="#6A6A6A" stroke-width="1"/>
<line x1="467.50" y1="216.07" x2="467.50" y2="245.75" stroke="#6A6A6A" stroke-width="1"/>
<line x1="465.40" y1="216.07" x2="469.60" y2="216.07" stroke="#6A6A6A" stroke-width="1"/>
<line x1="465.40" y1="245.75" x2="469.60" y2="245.75" stroke="#6A6A6A" stroke-width="1"/>
<line x1="472.10" y1="210.18" x2="472.10" y2="261.05" stroke="#6A6A6A" stroke-width="1"/>
<line x1="470.00" y1="210.18" x2="474.20" y2="210.18" stroke="#6A6A6A" stroke-width="1"/>
<line x1="470.00" y1="261.05" x2="474.20" y2="261.05" stroke="#6A6A6A" stroke-width="1"/>
<rect x="490.00" y="224.63" width="4.10" height="63.27" fill="#0B71C0"/>
<rect x="494.60" y="226.67" width="4.10" height="61.23" fill="#2C822C"/>
<rect x="499.20" y="220.78" width="4.10" height="67.12" fill="#FFBC00"/>
<rect x="503.80" y="221.80" width="4.10" height="66.10" fill="#E45B0E"/>
<rect x="508.40" y="232.40" width="4.10" height="55.50" fill="#787474"/>
<rect x="513.00" y="231.38" width="4.10" height="56.52" fill="#0A0A72"/>
<rect x="517.60" y="217.64" width="4.10" height="70.26" fill="#22F06A"/>
<rect x="522.20" y="269.84" width="4.10" height="18.05" fill="#7A2EB2"/>
<line x1="492.05" y1="216.07" x2="492.05" y2="233.19" stroke="#6A6A6A" stroke-width="1"/>
<line x1="489.95" y1="216.07" x2="494.15" y2="216.07" stroke="#6A6A6A" stroke-width="1"/>
<line x1="489.95" y1="233.19" x2="494.15" y2="233.19" stroke="#6A6A6A" stroke-width="1"/>
<line x1="496.65" y1="218.19" x2="496.65" y2="235.15" stroke="#6A6A6A" stroke-width="1"/>
<line x1="494.55" y1="218.19" x2="498.75" y2="218.19" stroke="#6A6A6A" stroke-width="1"/>
<line x1="494.55" y1="235.15" x2="498.75" y2="235.15" stroke="#6A6A6A" stroke-width="1"/>
<line x1="501.25" y1="218.19" x2="501.25" y2="223.37" stroke="#6A6A6A" stroke-width="1"/>
<line x1="499.15" y1="218.19" x2="503.35" y2="218.19" stroke="#6A6A6A" stroke-width="1"/>
<line x1="499.15" y1="223.37" x2="503.35" y2="223.37" stroke="#6A6A6A" stroke-width="1"/>
<line x1="505.85" y1="206.26" x2="505.85" y2="237.35" stroke="#6A6A6A" stroke-width="1"/>
<line x1="503.75" y1="206.26" x2="507.95" y2="206.26" stroke="#6A6A6A" stroke-width="1"/>
<line x1="503.75" y1="237.35" x2="507.95" y2="237.35" stroke="#6A6A6A" stroke-width="1"/>
<line x1="510.45" y1="227.06" x2="510.45" y2="237.74" stroke="#6A6A6A" stroke-width="1"/>
<line x1="508.35" y1="227.06" x2="512.55" y2="227.06" stroke="#6A6A6A" stroke-width="1"/>
<line x1="508.35" y1="237.74" x2="512.55" y2="237.74" stroke="#6A6A6A" stroke-width="1"/>
<line x1="515.05" y1="199.98" x2="515.05" y2="262.78" stroke="#6A6A6A" stroke-width="1"/>
<line x1="512.95" y1="199.98" x2="517.15" y2="199.98" stroke="#6A6A6A" stroke-width="1"/>
<line x1="512.95" y1="262.78" x2="517.15" y2="262.78" stroke="#6A6A6A" stroke-width="1"/>
<line x1="57.20" y1="193.70" x2="57.20" y2="288.40" stroke="#2572D4" stroke-width="1.4"/>
<line x1="53.90" y1="287.90" x2="57.20" y2="287.90" stroke="#2572D4" stroke-width="1.4"/>
<text x="49.00" y="290.85" font-size="8.2" fill="#6E6E6E" text-anchor="end" font-weight="normal">0.0</text>
<line x1="53.90" y1="272.20" x2="57.20" y2="272.20" stroke="#2572D4" stroke-width="1.4"/>
<text x="49.00" y="275.15" font-size="8.2" fill="#6E6E6E" text-anchor="end" font-weight="normal">0.2</text>
<line x1="53.90" y1="256.50" x2="57.20" y2="256.50" stroke="#2572D4" stroke-width="1.4"/>
<text x="49.00" y="259.45" font-size="8.2" fill="#6E6E6E" text-anchor="end" font-weight="normal">0.4</text>
<line x1="53.90" y1="240.80" x2="57.20" y2="240.80" stroke="#2572D4" stroke-width="1.4"/>
<text x="49.00" y="243.75" font-size="8.2" fill="#6E6E6E" text-anchor="end" font-weight="normal">0.6</text>
<line x1="53.90" y1="225.10" x2="57.20" y2="225.10" stroke="#2572D4" stroke-width="1.4"/>
<text x="49.00" y="228.05" font-size="8.2" fill="#6E6E6E" text-anchor="end" font-weight="normal">0.8</text>
<line x1="53.90" y1="209.40" x2="57.20" y2="209.40" stroke="#2572D4" stroke-width="1.4"/>
<text x="49.00" y="212.35" font-size="8.2" fill="#6E6E6E" text-anchor="end" font-weight="normal">1.0</text>
<line x1="53.90" y1="193.70" x2="57.20" y2="193.70" stroke="#2572D4" stroke-width="1.4"/>
<text x="49.00" y="196.65" font-size="8.2" fill="#6E6E6E" text-anchor="end" font-weight="normal">1.2</text>
<text transform="translate(78.88,302.9) scale(0.875,1)" font-size="8.3" fill="#6E6E6E" text-anchor="middle">D10S1248</text>
<text transform="translate(121.83,302.9) scale(0.875,1)" font-size="8.3" fill="#6E6E6E" text-anchor="middle">D12S391</text>
<text transform="translate(164.77,302.9) scale(0.875,1)" font-size="8.3" fill="#6E6E6E" text-anchor="middle">D18S51</text>
<text transform="translate(207.73,302.9) scale(0.875,1)" font-size="8.3" fill="#6E6E6E" text-anchor="middle">D19S433</text>
<text transform="translate(250.68,302.9) scale(0.875,1)" font-size="8.3" fill="#6E6E6E" text-anchor="middle">D1S1656</text>
<text transform="translate(293.62,302.9) scale(0.875,1)" font-size="8.3" fill="#6E6E6E" text-anchor="middle">D22S1045</text>
<text transform="translate(336.57,302.9) scale(0.875,1)" font-size="8.3" fill="#6E6E6E" text-anchor="middle">D2S441</text>
<text transform="translate(379.52,302.9) scale(0.875,1)" font-size="8.3" fill="#6E6E6E" text-anchor="middle">D3S1358</text>
<text transform="translate(422.48,302.9) scale(0.875,1)" font-size="8.3" fill="#6E6E6E" text-anchor="middle">FGA</text>
<text transform="translate(465.43,302.9) scale(0.875,1)" font-size="8.3" fill="#6E6E6E" text-anchor="middle">SE33</text>
<text transform="translate(508.38,302.9) scale(0.875,1)" font-size="8.3" fill="#6E6E6E" text-anchor="middle">vWA</text>
<text x="276.40" y="182.90" font-size="12.6" fill="#000" text-anchor="middle" font-weight="bold" textLength="149.40" lengthAdjust="spacingAndGlyphs">intra-locus balance maSTR</text>
<text transform="translate(32.9,241.1) rotate(-90)" font-size="9.4" font-weight="bold" fill="#6E6E6E" text-anchor="middle" textLength="40.4" lengthAdjust="spacingAndGlyphs">Peak ratio</text>
<rect x="119.10" y="317.30" width="4.30" height="4.10" fill="#0B71C0"/>
<text x="125.40" y="322.60" font-size="8.2" fill="#6E6E6E" text-anchor="start" font-weight="normal">1000</text>
<rect x="152.40" y="317.30" width="4.30" height="4.10" fill="#2C822C"/>
<text x="159.70" y="322.60" font-size="8.2" fill="#6E6E6E" text-anchor="start" font-weight="normal">500</text>
<rect x="181.90" y="317.30" width="4.30" height="4.10" fill="#FFBC00"/>
<text x="188.90" y="322.60" font-size="8.2" fill="#6E6E6E" text-anchor="start" font-weight="normal">250</text>
<rect x="211.30" y="317.30" width="4.30" height="4.10" fill="#E45B0E"/>
<text x="218.60" y="322.60" font-size="8.2" fill="#6E6E6E" text-anchor="start" font-weight="normal">125</text>
<rect x="241.40" y="317.30" width="4.30" height="4.10" fill="#787474"/>
<text x="248.10" y="322.60" font-size="8.2" fill="#6E6E6E" text-anchor="start" font-weight="normal">62.5</text>
<rect x="272.50" y="317.30" width="4.30" height="4.10" fill="#0A0A72"/>
<text x="279.20" y="322.60" font-size="8.2" fill="#6E6E6E" text-anchor="start" font-weight="normal">31.25</text>
<rect x="308.50" y="317.30" width="4.30" height="4.10" fill="#22F06A"/>
<text x="315.80" y="322.60" font-size="8.2" fill="#6E6E6E" text-anchor="start" font-weight="normal" textLength="49.60" lengthAdjust="spacingAndGlyphs">62.5 with BSA</text>
<rect x="373.90" y="317.30" width="4.30" height="4.10" fill="#7A2EB2"/>
<text x="381.30" y="322.60" font-size="8.2" fill="#6E6E6E" text-anchor="start" font-weight="normal" textLength="54.40" lengthAdjust="spacingAndGlyphs">31.25 with BSA</text>
<text x="442.30" y="322.00" font-size="8.8" fill="#6E6E6E" text-anchor="start" font-weight="bold" textLength="71.00" lengthAdjust="spacingAndGlyphs">DNA amount [pg]</text>
<text transform="translate(11.8,318.7) scale(0.85,0.96)" font-size="18" font-weight="bold" fill="#000">c</text>
<line x1="57.20" y1="451.50" x2="526.17" y2="451.50" stroke="#D9D9D9" stroke-width="1"/>
<rect x="62.00" y="373.47" width="4.60" height="78.03" fill="#0B71C0"/>
<rect x="67.68" y="383.60" width="4.60" height="67.90" fill="#2C822C"/>
<rect x="73.36" y="389.88" width="4.60" height="61.62" fill="#FFBC00"/>
<rect x="79.04" y="389.88" width="4.60" height="61.62" fill="#E45B0E"/>
<rect x="84.72" y="408.95" width="4.60" height="42.55" fill="#787474"/>
<rect x="90.40" y="407.93" width="4.60" height="43.57" fill="#0A0A72"/>
<line x1="69.98" y1="380.14" x2="69.98" y2="387.05" stroke="#6A6A6A" stroke-width="1"/>
<line x1="67.88" y1="380.14" x2="72.08" y2="380.14" stroke="#6A6A6A" stroke-width="1"/>
<line x1="67.88" y1="387.05" x2="72.08" y2="387.05" stroke="#6A6A6A" stroke-width="1"/>
<rect x="104.63" y="375.36" width="4.60" height="76.14" fill="#0B71C0"/>
<rect x="110.31" y="383.60" width="4.60" height="67.90" fill="#2C822C"/>
<rect x="115.99" y="379.28" width="4.60" height="72.22" fill="#FFBC00"/>
<rect x="121.67" y="417.75" width="4.60" height="33.76" fill="#E45B0E"/>
<rect x="127.35" y="421.98" width="4.60" height="29.52" fill="#787474"/>
<rect x="133.03" y="387.13" width="4.60" height="64.37" fill="#0A0A72"/>
<line x1="112.61" y1="375.35" x2="112.61" y2="391.84" stroke="#6A6A6A" stroke-width="1"/>
<line x1="110.51" y1="375.35" x2="114.71" y2="375.35" stroke="#6A6A6A" stroke-width="1"/>
<line x1="110.51" y1="391.84" x2="114.71" y2="391.84" stroke="#6A6A6A" stroke-width="1"/>
<rect x="147.27" y="377.24" width="4.60" height="74.26" fill="#0B71C0"/>
<rect x="152.95" y="381.24" width="4.60" height="70.26" fill="#2C822C"/>
<rect x="158.63" y="384.15" width="4.60" height="67.35" fill="#FFBC00"/>
<rect x="164.31" y="397.02" width="4.60" height="54.48" fill="#E45B0E"/>
<rect x="169.99" y="426.85" width="4.60" height="24.65" fill="#787474"/>
<line x1="155.25" y1="375.59" x2="155.25" y2="386.89" stroke="#6A6A6A" stroke-width="1"/>
<line x1="153.15" y1="375.59" x2="157.35" y2="375.59" stroke="#6A6A6A" stroke-width="1"/>
<line x1="153.15" y1="386.89" x2="157.35" y2="386.89" stroke="#6A6A6A" stroke-width="1"/>
<rect x="189.90" y="379.28" width="4.60" height="72.22" fill="#0B71C0"/>
<rect x="195.58" y="379.75" width="4.60" height="71.75" fill="#2C822C"/>
<rect x="201.26" y="393.25" width="4.60" height="58.25" fill="#FFBC00"/>
<rect x="206.94" y="407.93" width="4.60" height="43.57" fill="#E45B0E"/>
<rect x="212.62" y="398.04" width="4.60" height="53.46" fill="#787474"/>
<rect x="218.30" y="373.47" width="4.60" height="78.03" fill="#0A0A72"/>
<line x1="197.88" y1="370.17" x2="197.88" y2="389.33" stroke="#6A6A6A" stroke-width="1"/>
<line x1="195.78" y1="370.17" x2="199.98" y2="370.17" stroke="#6A6A6A" stroke-width="1"/>
<line x1="195.78" y1="389.33" x2="199.98" y2="389.33" stroke="#6A6A6A" stroke-width="1"/>
<rect x="232.54" y="373.47" width="4.60" height="78.03" fill="#0B71C0"/>
<rect x="238.22" y="390.27" width="4.60" height="61.23" fill="#2C822C"/>
<rect x="243.90" y="385.01" width="4.60" height="66.49" fill="#FFBC00"/>
<rect x="249.58" y="411.78" width="4.60" height="39.72" fill="#E45B0E"/>
<rect x="255.26" y="396.08" width="4.60" height="55.42" fill="#787474"/>
<line x1="240.52" y1="378.50" x2="240.52" y2="402.04" stroke="#6A6A6A" stroke-width="1"/>
<line x1="238.42" y1="378.50" x2="242.62" y2="378.50" stroke="#6A6A6A" stroke-width="1"/>
<line x1="238.42" y1="402.04" x2="242.62" y2="402.04" stroke="#6A6A6A" stroke-width="1"/>
<rect x="275.17" y="376.45" width="4.60" height="75.05" fill="#0B71C0"/>
<rect x="280.85" y="374.57" width="4.60" height="76.93" fill="#2C822C"/>
<rect x="286.53" y="405.03" width="4.60" height="46.47" fill="#FFBC00"/>
<rect x="292.21" y="375.36" width="4.60" height="76.14" fill="#E45B0E"/>
<rect x="297.89" y="413.90" width="4.60" height="37.60" fill="#787474"/>
<line x1="283.15" y1="373.78" x2="283.15" y2="375.36" stroke="#6A6A6A" stroke-width="1"/>
<line x1="281.05" y1="373.78" x2="285.25" y2="373.78" stroke="#6A6A6A" stroke-width="1"/>
<line x1="281.05" y1="375.36" x2="285.25" y2="375.36" stroke="#6A6A6A" stroke-width="1"/>
<rect x="317.80" y="385.01" width="4.60" height="66.49" fill="#0B71C0"/>
<rect x="323.48" y="382.26" width="4.60" height="69.24" fill="#2C822C"/>
<rect x="329.16" y="387.92" width="4.60" height="63.59" fill="#FFBC00"/>
<rect x="334.84" y="405.03" width="4.60" height="46.47" fill="#E45B0E"/>
<rect x="340.52" y="387.13" width="4.60" height="64.37" fill="#787474"/>
<rect x="346.20" y="389.88" width="4.60" height="61.62" fill="#0A0A72"/>
<line x1="325.78" y1="374.57" x2="325.78" y2="389.96" stroke="#6A6A6A" stroke-width="1"/>
<line x1="323.68" y1="374.57" x2="327.88" y2="374.57" stroke="#6A6A6A" stroke-width="1"/>
<line x1="323.68" y1="389.96" x2="327.88" y2="389.96" stroke="#6A6A6A" stroke-width="1"/>
<rect x="360.44" y="389.41" width="4.60" height="62.09" fill="#0B71C0"/>
<rect x="366.12" y="389.41" width="4.60" height="62.09" fill="#2C822C"/>
<rect x="371.80" y="403.77" width="4.60" height="47.73" fill="#FFBC00"/>
<rect x="377.48" y="394.74" width="4.60" height="56.76" fill="#E45B0E"/>
<rect x="383.16" y="377.47" width="4.60" height="74.03" fill="#787474"/>
<rect x="388.84" y="382.26" width="4.60" height="69.24" fill="#0A0A72"/>
<line x1="368.42" y1="385.01" x2="368.42" y2="393.80" stroke="#6A6A6A" stroke-width="1"/>
<line x1="366.32" y1="385.01" x2="370.52" y2="385.01" stroke="#6A6A6A" stroke-width="1"/>
<line x1="366.32" y1="393.80" x2="370.52" y2="393.80" stroke="#6A6A6A" stroke-width="1"/>
<rect x="403.07" y="379.20" width="4.60" height="72.30" fill="#0B71C0"/>
<rect x="408.75" y="386.11" width="4.60" height="65.39" fill="#2C822C"/>
<rect x="414.43" y="390.27" width="4.60" height="61.23" fill="#FFBC00"/>
<rect x="420.11" y="380.14" width="4.60" height="71.36" fill="#E45B0E"/>
<rect x="425.79" y="412.96" width="4.60" height="38.54" fill="#787474"/>
<rect x="431.47" y="377.47" width="4.60" height="74.03" fill="#0A0A72"/>
<line x1="411.05" y1="378.50" x2="411.05" y2="393.72" stroke="#6A6A6A" stroke-width="1"/>
<line x1="408.95" y1="378.50" x2="413.15" y2="378.50" stroke="#6A6A6A" stroke-width="1"/>
<line x1="408.95" y1="393.72" x2="413.15" y2="393.72" stroke="#6A6A6A" stroke-width="1"/>
<rect x="445.71" y="381.24" width="4.60" height="70.26" fill="#0B71C0"/>
<rect x="451.39" y="379.20" width="4.60" height="72.30" fill="#2C822C"/>
<rect x="457.07" y="380.14" width="4.60" height="71.36" fill="#FFBC00"/>
<rect x="462.75" y="398.04" width="4.60" height="53.46" fill="#E45B0E"/>
<rect x="468.43" y="398.90" width="4.60" height="52.60" fill="#787474"/>
<rect x="474.11" y="405.66" width="4.60" height="45.84" fill="#0A0A72"/>
<line x1="453.69" y1="374.57" x2="453.69" y2="383.83" stroke="#6A6A6A" stroke-width="1"/>
<line x1="451.59" y1="374.57" x2="455.79" y2="374.57" stroke="#6A6A6A" stroke-width="1"/>
<line x1="451.59" y1="383.83" x2="455.79" y2="383.83" stroke="#6A6A6A" stroke-width="1"/>
<rect x="488.34" y="376.30" width="4.60" height="75.20" fill="#0B71C0"/>
<rect x="494.02" y="377.87" width="4.60" height="73.63" fill="#2C822C"/>
<rect x="499.70" y="390.90" width="4.60" height="60.60" fill="#FFBC00"/>
<rect x="505.38" y="416.80" width="4.60" height="34.70" fill="#E45B0E"/>
<line x1="496.32" y1="371.43" x2="496.32" y2="384.30" stroke="#6A6A6A" stroke-width="1"/>
<line x1="494.22" y1="371.43" x2="498.42" y2="371.43" stroke="#6A6A6A" stroke-width="1"/>
<line x1="494.22" y1="384.30" x2="498.42" y2="384.30" stroke="#6A6A6A" stroke-width="1"/>
<line x1="57.20" y1="357.30" x2="57.20" y2="452.00" stroke="#2572D4" stroke-width="1.4"/>
<line x1="53.90" y1="451.50" x2="57.20" y2="451.50" stroke="#2572D4" stroke-width="1.4"/>
<text x="49.00" y="454.45" font-size="8.2" fill="#6E6E6E" text-anchor="end" font-weight="normal">0.0</text>
<line x1="53.90" y1="435.80" x2="57.20" y2="435.80" stroke="#2572D4" stroke-width="1.4"/>
<text x="49.00" y="438.75" font-size="8.2" fill="#6E6E6E" text-anchor="end" font-weight="normal">0.2</text>
<line x1="53.90" y1="420.10" x2="57.20" y2="420.10" stroke="#2572D4" stroke-width="1.4"/>
<text x="49.00" y="423.05" font-size="8.2" fill="#6E6E6E" text-anchor="end" font-weight="normal">0.4</text>
<line x1="53.90" y1="404.40" x2="57.20" y2="404.40" stroke="#2572D4" stroke-width="1.4"/>
<text x="49.00" y="407.35" font-size="8.2" fill="#6E6E6E" text-anchor="end" font-weight="normal">0.6</text>
<line x1="53.90" y1="388.70" x2="57.20" y2="388.70" stroke="#2572D4" stroke-width="1.4"/>
<text x="49.00" y="391.65" font-size="8.2" fill="#6E6E6E" text-anchor="end" font-weight="normal">0.8</text>
<line x1="53.90" y1="373.00" x2="57.20" y2="373.00" stroke="#2572D4" stroke-width="1.4"/>
<text x="49.00" y="375.95" font-size="8.2" fill="#6E6E6E" text-anchor="end" font-weight="normal">1.0</text>
<line x1="53.90" y1="357.30" x2="57.20" y2="357.30" stroke="#2572D4" stroke-width="1.4"/>
<text x="49.00" y="360.25" font-size="8.2" fill="#6E6E6E" text-anchor="end" font-weight="normal">1.2</text>
<text transform="translate(78.72,467.1) scale(0.875,1)" font-size="8.2" fill="#6E6E6E" text-anchor="middle">D10S1248</text>
<text transform="translate(121.35,467.1) scale(0.875,1)" font-size="8.2" fill="#6E6E6E" text-anchor="middle">D12S391</text>
<text transform="translate(163.99,467.1) scale(0.875,1)" font-size="8.2" fill="#6E6E6E" text-anchor="middle">D18S51</text>
<text transform="translate(206.62,467.1) scale(0.875,1)" font-size="8.2" fill="#6E6E6E" text-anchor="middle">D19S13</text>
<text transform="translate(249.25,467.1) scale(0.875,1)" font-size="8.2" fill="#6E6E6E" text-anchor="middle">D1S1656</text>
<text transform="translate(291.89,467.1) scale(0.875,1)" font-size="8.2" fill="#6E6E6E" text-anchor="middle">D22S1045</text>
<text transform="translate(334.52,467.1) scale(0.875,1)" font-size="8.2" fill="#6E6E6E" text-anchor="middle">D2S441</text>
<text transform="translate(377.15,467.1) scale(0.875,1)" font-size="8.2" fill="#6E6E6E" text-anchor="middle">D3S1358</text>
<text transform="translate(419.79,467.1) scale(0.875,1)" font-size="8.2" fill="#6E6E6E" text-anchor="middle">FGA</text>
<text transform="translate(462.42,467.1) scale(0.875,1)" font-size="8.2" fill="#6E6E6E" text-anchor="middle">SE33</text>
<text transform="translate(505.06,467.1) scale(0.875,1)" font-size="8.2" fill="#6E6E6E" text-anchor="middle">vWA</text>
<text x="269.70" y="347.80" font-size="12.6" fill="#000" text-anchor="middle" font-weight="bold" textLength="124.20" lengthAdjust="spacingAndGlyphs">intra-locus balance CE</text>
<text transform="translate(32.9,404.1) rotate(-90)" font-size="9.4" font-weight="bold" fill="#6E6E6E" text-anchor="middle" textLength="40.2" lengthAdjust="spacingAndGlyphs">Peak ratio</text>
<rect x="190.50" y="480.70" width="4.00" height="4.00" fill="#0B71C0"/>
<text x="196.30" y="485.90" font-size="8.2" fill="#6E6E6E" text-anchor="start" font-weight="normal">1000</text>
<rect x="221.70" y="480.70" width="4.00" height="4.00" fill="#2C822C"/>
<text x="228.00" y="485.90" font-size="8.2" fill="#6E6E6E" text-anchor="start" font-weight="normal">500</text>
<rect x="249.40" y="480.70" width="4.00" height="4.00" fill="#FFBC00"/>
<text x="255.30" y="485.90" font-size="8.2" fill="#6E6E6E" text-anchor="start" font-weight="normal">250</text>
<rect x="276.60" y="480.70" width="4.00" height="4.00" fill="#E45B0E"/>
<text x="282.50" y="485.90" font-size="8.2" fill="#6E6E6E" text-anchor="start" font-weight="normal">125</text>
<rect x="304.40" y="480.70" width="4.00" height="4.00" fill="#787474"/>
<text x="311.00" y="485.90" font-size="8.2" fill="#6E6E6E" text-anchor="start" font-weight="normal">62.5</text>
<rect x="334.30" y="480.70" width="4.00" height="4.00" fill="#0A0A72"/>
<text x="341.30" y="485.90" font-size="8.2" fill="#6E6E6E" text-anchor="start" font-weight="normal">31.25</text>
<text x="367.50" y="485.40" font-size="8.8" fill="#6E6E6E" text-anchor="start" font-weight="bold" textLength="70.70" lengthAdjust="spacingAndGlyphs">DNA amount [pg]</text>
<text x="11.50" y="481.20" font-size="18" fill="#000" text-anchor="start" font-weight="bold">d</text>
<line x1="4.50" y1="5.50" x2="545.50" y2="5.50" stroke="#2E6DB4" stroke-width="1.3"/>
<line x1="4.50" y1="5.50" x2="4.50" y2="492.50" stroke="#2E6DB4" stroke-width="1.3"/>
<line x1="4.50" y1="492.60" x2="546.00" y2="492.60" stroke="#2E6DB4" stroke-width="1.4"/>
<line x1="271.90" y1="5.50" x2="271.90" y2="168.00" stroke="#2E6DB4" stroke-width="2"/>
<line x1="4.50" y1="167.90" x2="545.50" y2="167.90" stroke="#2E6DB4" stroke-width="2"/>
<line x1="4.50" y1="329.20" x2="545.50" y2="329.20" stroke="#2E6DB4" stroke-width="1.6"/>
<line x1="545.80" y1="5.00" x2="545.80" y2="493.00" stroke="#BDD0E8" stroke-width="1.6"/>
</svg>
</body></html>
